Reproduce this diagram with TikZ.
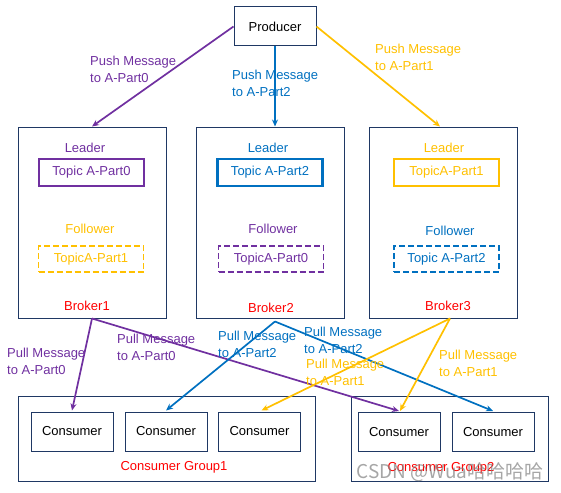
\documentclass[tikz,border=0pt]{standalone}
\usepackage{fontspec}
\setmainfont{Liberation Sans}
\newfontfamily\cjkfont{Noto Sans CJK SC}
\usetikzlibrary{arrows.meta,calc}
\definecolor{navy}{HTML}{1F3864}
\definecolor{kpurple}{HTML}{7030A0}
\definecolor{kblue}{HTML}{0070C0}
\definecolor{kyellow}{HTML}{FFC000}
\definecolor{kred}{HTML}{FF0000}
\begin{document}
\begin{tikzpicture}[x=1pt,y=-1pt,
  every node/.style={font=\fontsize{13}{17}\selectfont, inner sep=0pt},
  broker/.style={draw=navy, line width=1pt, minimum width=148pt, minimum height=191pt},
  consumer/.style={draw=navy, line width=1pt, minimum width=82pt, minimum height=39pt},
  leaderbox/.style={draw=#1, line width=2.2pt, text=#1, minimum width=105pt, minimum height=27pt},
  followbox/.style={draw=#1, line width=1.8pt, dash pattern=on 6pt off 3pt, text=#1, minimum width=105pt, minimum height=26pt},
  lbl/.style={anchor=north west, align=left, text=#1},
  arr/.style={draw=#1, line width=1.7pt, -{Stealth[length=7pt,width=6pt]}}
]
\useasboundingbox (0,0) rectangle (561,492);

% producer
\node[draw=navy, line width=1pt, minimum width=82pt, minimum height=39pt] (prod) at (275,26.5) {Producer};

% brokers
\node[broker] (b1) at (92,222.5) {};
\node[broker] (b2) at (270,222.5) {};
\node[broker] (b3) at (443,222.5) {};

\node[text=kpurple] (l1) at (85,148) {Leader};
\node[text=kblue] (l2) at (268,148) {Leader};
\node[text=kyellow] (l3) at (444,148) {Leader};

\node[leaderbox=kpurple] (lb1) at (91.5,172.5) {Topic A-Part0};
\node[leaderbox=kblue] (lb2) at (270,172.5) {Topic A-Part2};
\node[leaderbox=kyellow] (lb3) at (446.5,172.5) {TopicA-Part1};

\node[text=kyellow] (f1) at (90,229) {Follower};
\node[text=kpurple] (f2) at (273,229) {Follower};
\node[text=kblue] (f3) at (450,231) {Follower};

\node[followbox=kyellow] (fb1) at (91,259) {TopicA-Part1};
\node[followbox=kpurple] (fb2) at (271,259) {TopicA-Part0};
\node[followbox=kblue] (fb3) at (446.5,259) {Topic A-Part2};

\node[text=kred] (bl1) at (87,306) {Broker1};
\node[text=kred] (bl2) at (271,308) {Broker2};
\node[text=kred] (bl3) at (448,306) {Broker3};

% consumer groups
\node[draw=navy, line width=1pt, minimum width=297pt, minimum height=85pt] (g1) at (166.5,438.5) {};
\node[draw=navy, line width=1pt, minimum width=197pt, minimum height=85pt] (g2) at (449.5,438.5) {};

\node[consumer] (c1) at (72,431.5) {Consumer};
\node[consumer] (c2) at (166,431.5) {Consumer};
\node[consumer] (c3) at (259.5,431.5) {Consumer};
\node[consumer] (c4) at (399,432) {Consumer};
\node[consumer] (c5) at (493,432) {Consumer};

\node[text=kred] (gl1) at (174,467) {Consumer Group1};
\node[text=kred] (gl2) at (441,468) {Consumer Group2};

% push arrows
\draw[arr=kpurple] (prod.west) -- (b1.north);
\draw[arr=kblue] (prod.south) -- (prod.south |- b2.north);
\draw[arr=kyellow] (prod.east) -- ($(b3.north)+(-3,0)$);

\node[lbl=kpurple] (pl1) at (90,56) {Push Message\\to A-Part0};
\node[lbl=kblue] (pl2) at (232,70) {Push Message\\to A-Part2};
\node[lbl=kyellow] (pl3) at (375,44) {Push Message\\to A-Part1};

% pull arrows
\coordinate (s1) at (b1.south);
\coordinate (s2) at ($(b2.south)+(5,3)$);
\coordinate (s3) at ($(b3.south)+(7,0)$);
\draw[arr=kpurple] (s1) -- ($(c1.north)+(0,-1)$);
\draw[arr=kpurple] (s1) -- ($(c4.north)+(0,-1)$);
\draw[arr=kblue] (s2) -- ($(c2.north)+(0,-1)$);
\draw[arr=kblue] (s2) -- ($(c5.north)+(0,-1)$);
\draw[arr=kyellow] (s3) -- ($(c3.north)+(2,-1)$);
\draw[arr=kyellow] (s3) -- ($(c4.north)+(1,-1)$);

\node[lbl=kpurple] (ql1) at (7,348) {Pull Message\\to A-Part0};
\node[lbl=kpurple] (ql2) at (117,334) {Pull Message\\to A-Part0};
\node[lbl=kblue] (ql3) at (218,331) {Pull Message\\to A-Part2};
\node[lbl=kblue] (ql4) at (304,327) {Pull Message\\to A-Part2};
\node[lbl=kyellow] (ql5) at (306,359) {Pull Message\\to A-Part1};
\node[lbl=kyellow] (ql6) at (439,350) {Pull Message\\to A-Part1};

% watermark
\node[text=gray, opacity=0.7, font=\cjkfont\fontsize{19}{22}\selectfont] (wm) at (450,472) {CSDN @Wua哈哈哈哈};
\end{tikzpicture}
\end{document}
